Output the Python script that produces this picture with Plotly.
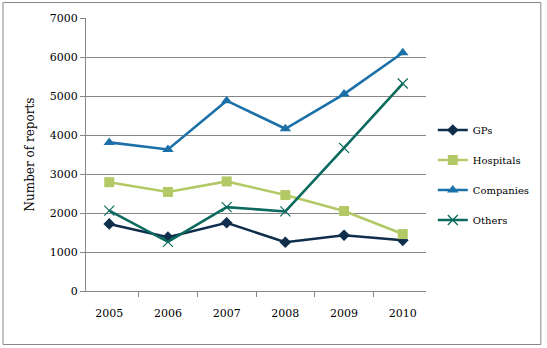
import plotly.graph_objects as go

years = ["2005", "2006", "2007", "2008", "2009", "2010"]
gps = [1720, 1380, 1750, 1250, 1430, 1300]
hospitals = [2790, 2540, 2810, 2460, 2050, 1460]
companies = [3810, 3630, 4880, 4160, 5050, 6110]
others = [2060, 1260, 2150, 2040, 3670, 5320]

series = [
    ("GPs", gps, "#0F2E4C", dict(symbol="diamond", size=9)),
    ("Hospitals", hospitals, "#B3C965", dict(symbol="square", size=10)),
    ("Companies", companies, "#1B70A8", dict(symbol="triangle-up", size=10)),
    ("Others", others, "#0D6A5E", dict(symbol="x-thin", size=10, line=dict(width=1.2, color="#0D6A5E"))),
]

fig = go.Figure()
for name, vals, color, mk in series:
    mk = dict(mk)
    mk["color"] = color
    fig.add_trace(go.Scatter(
        x=years, y=vals, name=name, mode="lines+markers",
        line=dict(color=color, width=2.6), marker=mk, legendgroup=name,
    ))

font = "DejaVu Serif"
fig.update_layout(
    width=547, height=348,
    margin=dict(l=86, r=119, t=18, b=57),
    paper_bgcolor="white", plot_bgcolor="white",
    font=dict(family=font, size=11, color="#000000"),
    showlegend=True,
    legend=dict(x=1.02, y=0.425, xanchor="left", yanchor="middle",
                font=dict(family=font, size=10), tracegroupgap=11,
                itemwidth=30, bgcolor="rgba(0,0,0,0)", borderwidth=0),
    xaxis=dict(type="category", showgrid=False, showline=True, linecolor="#868686",
               linewidth=1, ticks="outside", tickson="boundaries", ticklen=5,
               tickcolor="#868686", tickfont=dict(family=font, size=11),
               ticklabelstandoff=12),
    yaxis=dict(range=[0, 7000], dtick=1000, showgrid=True, gridcolor="#868686",
               gridwidth=1, showline=True, linecolor="#868686", ticks="outside",
               ticklen=5, tickcolor="#868686", zeroline=False,
               title=dict(text="Number of reports", font=dict(family=font, size=12), standoff=12),
               tickfont=dict(family=font, size=11)),
    shapes=[dict(type="rect", xref="paper", yref="paper",
                 x0=(2.5 - 86) / 342, x1=(543.5 - 86) / 342,
                 y0=(291 - 344.5) / 273, y1=(291 - 2.5) / 273,
                 line=dict(color="#868686", width=1), fillcolor="rgba(0,0,0,0)", layer="below")],
)

fig.write_html("out.html")
